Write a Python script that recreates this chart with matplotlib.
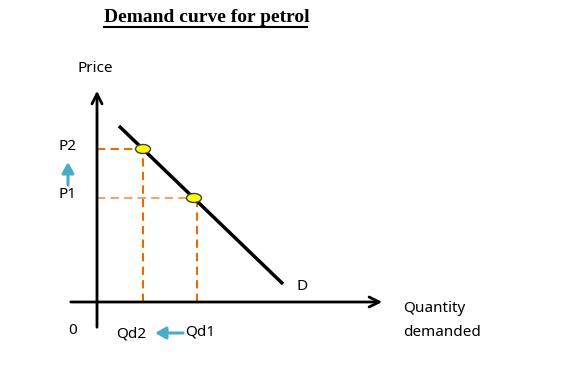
import matplotlib.pyplot as plt
from matplotlib.patches import Ellipse

# diagram units: origin at the axis crossing, quantity to the right, price up
demand_q = [22, 186]
demand_p = [176, 18]
point_labels = ["P2", "P1"]
point_q = [46, 97]
point_p = [153, 104]
qty_labels = ["Qd2", "Qd1"]
qty_q = [46, 100]

fig = plt.figure(figsize=(5.73, 3.67), dpi=100)
ax = fig.add_axes([0, 0, 1, 1])
ax.set_xlim(-97, 476)
ax.set_ylim(-65, 302)
ax.set_aspect("equal")
ax.axis("off")

font = "Noto Sans"
fs = 11
dark_orange = "#E46C0A"
light_orange = "#F4A46A"
blue = "#4BACC6"

# axes with arrows
arrow = dict(arrowstyle="->", lw=2, color="black", mutation_scale=18)
ax.annotate("", xy=(0, 214), xytext=(0, -28), arrowprops=arrow)
ax.annotate("", xy=(288, 0), xytext=(-29, 0), arrowprops=arrow)

# dashed guide lines
dash = (4, 2.5)
ax.plot([0, point_q[0]], [point_p[0]] * 2, "--", color=dark_orange, lw=1.5, dashes=dash)
ax.plot([qty_q[0]] * 2, [0, point_p[0]], "--", color=dark_orange, lw=1.5, dashes=dash)
ax.plot([0, point_q[1]], [point_p[1]] * 2, "--", color=light_orange, lw=1.5, dashes=dash)
ax.plot([qty_q[1]] * 2, [0, point_p[1]], "--", color=dark_orange, lw=1.5, dashes=dash)

# demand line
ax.plot(demand_q, demand_p, color="black", lw=2.5, solid_capstyle="butt")
ax.text(demand_q[1] + 14, demand_p[1] - 3, "D", fontsize=fs, family=font, ha="left", va="center")

for q, p in zip(point_q, point_p):
    ax.add_patch(Ellipse((q, p), 15, 9, facecolor="yellow", edgecolor="#404040", lw=1, zorder=5))

# labels
ax.text(-2, 233, "Price", fontsize=fs, family=font, ha="center", va="center")
for lab, p in zip(point_labels, point_p):
    ax.text(-29, p + 3, lab, fontsize=fs, family=font, ha="center", va="center")
ax.text(-24, -28, "0", fontsize=fs, family=font, ha="center", va="center")
ax.text(qty_q[0] - 12, -32, qty_labels[0], fontsize=fs, family=font, ha="center", va="center")
ax.text(qty_q[1] - 12, -30, qty_labels[1], fontsize=fs, family=font, ha="left", va="center")
ax.text(306, -7, "Quantity", fontsize=fs, family=font, ha="left", va="center")
ax.text(306, -30, "demanded", fontsize=fs, family=font, ha="left", va="center")

# shift arrows
blue_arrow = dict(arrowstyle="-|>,head_length=0.8,head_width=0.45", lw=2.2, color=blue,
                  mutation_scale=8, shrinkA=0, shrinkB=0)
ax.annotate("", xy=(-29, 140), xytext=(-29, 117), arrowprops=blue_arrow)
ax.annotate("", xy=(58, -31), xytext=(86, -31), arrowprops=blue_arrow)

# title with underline
ax.text(104 - 97, 302 - 17, "Demand curve for petrol", fontsize=14, family="Liberation Serif",
        weight="bold", ha="left", va="center")
ax.plot([104 - 97, 307 - 97], [302 - 27, 302 - 27], color="black", lw=1.5)

fig.savefig("out.png", dpi=100)
